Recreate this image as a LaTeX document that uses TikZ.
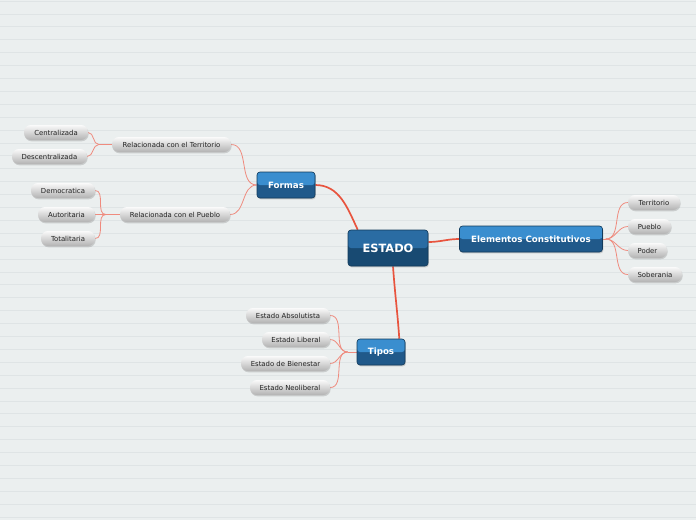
\documentclass[tikz,border=0pt]{standalone}
\usepackage{fontspec}
\setmainfont{DejaVu Sans}
\usetikzlibrary{shadows,calc}
\pgfdeclarelayer{background}
\pgfsetlayers{background,main}
\definecolor{bg}{HTML}{EBEFEF}
\definecolor{bgline}{HTML}{DFE4E5}
\definecolor{redmain}{HTML}{E8543E}
\definecolor{redsub}{HTML}{EF8B7E}
\definecolor{toptop}{HTML}{3A8ECF}
\definecolor{topbot}{HTML}{20598A}
\definecolor{roottop}{HTML}{2A6CA3}
\definecolor{rootbot}{HTML}{184A72}
\definecolor{mainborder}{HTML}{123A5A}
\definecolor{subtext}{HTML}{222222}
\tikzset{
  glossbox/.style 2 args={rectangle, rounded corners=3pt, draw=mainborder, line width=0.6pt,
    fill=#2, path picture={\fill[#1] (path picture bounding box.north west) rectangle (path picture bounding box.east);},
    text=white, inner sep=2pt,
    drop shadow={shadow xshift=0.8pt, shadow yshift=-1.3pt, opacity=0.35}},
  rootbox/.style={glossbox={roottop}{rootbot}, font=\bfseries\fontsize{11.4}{12}\selectfont,
    minimum width=80pt, minimum height=36pt},
  topicbox/.style={glossbox={toptop}{topbot}, font=\bfseries\fontsize{8.7}{9.5}\selectfont,
    minimum height=26pt},
  subbox/.style={rectangle, rounded corners=7pt, draw=none, top color=white!96!gray, bottom color=black!30,
    text=subtext, font=\fontsize{6.9}{7.5}\selectfont, minimum height=15pt, inner sep=1pt,
    drop shadow={shadow xshift=0.6pt, shadow yshift=-1.3pt, opacity=0.3}},
  mainedge/.style={draw=redmain, line width=1.7pt},
  subedge/.style={draw=redsub, line width=0.8pt},
}
\begin{document}
\begin{tikzpicture}[x=1pt,y=-1pt]
\useasboundingbox (0,0) rectangle (696,520);
% main nodes
\node[rootbox] (estado) at (388,248) {ESTADO};
\node[topicbox, minimum width=58pt] (formas) at (286,185) {Formas};
\node[topicbox, minimum width=143pt] (elem) at (531,239) {Elementos Constitutivos};
\node[topicbox, minimum width=48pt] (tipos) at (381,352) {Tipos};
% Formas branch
\node[subbox, minimum width=119pt] (rt) at (171.5,144.5) {Relacionada con el Territorio};
\node[subbox, minimum width=110pt] (rp) at (175,214.5) {Relacionada con el Pueblo};
\node[subbox, minimum width=64pt] (cen) at (56,132.5) {Centralizada};
\node[subbox, minimum width=75pt] (des) at (49.5,156.5) {Descentralizada};
\node[subbox, minimum width=64pt] (dem) at (63,190.5) {Democratica};
\node[subbox, minimum width=57pt] (aut) at (66.5,214.5) {Autoritaria};
\node[subbox, minimum width=54pt] (tot) at (68,238.5) {Totalitaria};
% Elementos branch
\node[subbox, minimum width=52pt] (terr) at (654,202.5) {Territorio};
\node[subbox, minimum width=43pt] (pue) at (649.5,226.5) {Pueblo};
\node[subbox, minimum width=39pt] (pod) at (647.5,250.5) {Poder};
\node[subbox, minimum width=54pt] (sob) at (655,274.5) {Soberania};
% Tipos branch
\node[subbox, minimum width=84pt] (ea) at (288,315.5) {Estado Absolutista};
\node[subbox, minimum width=68pt] (el) at (296,339.5) {Estado Liberal};
\node[subbox, minimum width=89pt] (eb) at (285.5,363.5) {Estado de Bienestar};
\node[subbox, minimum width=80pt] (en) at (290,387.5) {Estado Neoliberal};
\begin{pgfonlayer}{background}
\fill[bg] (0,0) rectangle (696,520);
\foreach \i in {0,...,40} \draw[bgline, line width=0.7pt] (0,1+12.9*\i) -- (696,1+12.9*\i);
% main edges
\draw[mainedge] (formas.east) to[out=0,in=115] ([xshift=10pt]estado.north west);
\draw[mainedge] ([yshift=6pt]estado.east) to[out=0,in=180] (elem.west);
\draw[mainedge] ([xshift=5pt]estado.south) to[out=-86,in=94] ([xshift=-6pt]tipos.north east);
% Formas branch edges
\draw[subedge] (formas.west) to[out=180,in=0] (rt.east);
\draw[subedge] (formas.west) to[out=180,in=0] (rp.east);
\coordinate (j1) at ([xshift=-13pt]rt.west);
\draw[subedge] (rt.west) -- (j1);
\draw[subedge] (j1) to[out=180,in=0] (cen.east);
\draw[subedge] (j1) to[out=180,in=0] (des.east);
\coordinate (j2) at ([xshift=-14pt]rp.west);
\draw[subedge] (rp.west) -- (j2);
\draw[subedge] (j2) to[out=180,in=0] (dem.east);
\draw[subedge] (j2) -- (aut.east);
\draw[subedge] (j2) to[out=180,in=0] (tot.east);
% Elementos branch edges
\coordinate (j3) at ([xshift=3pt]elem.east);
\draw[subedge] (elem.east) -- (j3);
\foreach \n in {terr,pue,pod,sob} \draw[subedge] (j3) to[out=0,in=180] (\n.west);
% Tipos branch edges
\coordinate (j4) at ([xshift=-9pt]tipos.west);
\draw[subedge] (tipos.west) -- (j4);
\foreach \n in {ea,el,eb,en} \draw[subedge] (j4) to[out=180,in=0] (\n.east);
\end{pgfonlayer}
\end{tikzpicture}
\end{document}
